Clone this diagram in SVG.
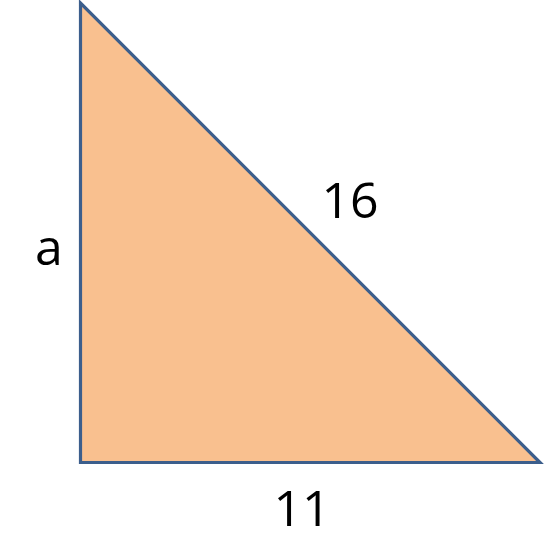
<svg xmlns="http://www.w3.org/2000/svg" width="544" height="550" viewBox="0 0 544 550">
<style>
.lbl{font-family:"Open Sans","Liberation Sans",sans-serif;font-size:50px;fill:#000;text-anchor:middle}
</style>
<rect width="544" height="550" fill="#fff"/>
<g id="triangle">
<polygon points="80.5,3 80.5,462.5 540,462.5" fill="#F9C08F" stroke="#3C5E8C" stroke-width="3.2" stroke-linejoin="miter" stroke-miterlimit="20"/>
</g>
<g id="labels">
<text class="lbl" x="49" y="265">a</text>
<text class="lbl" x="350" y="218">16</text>
<text class="lbl" x="302" y="526">11</text>
</g>
</svg>
